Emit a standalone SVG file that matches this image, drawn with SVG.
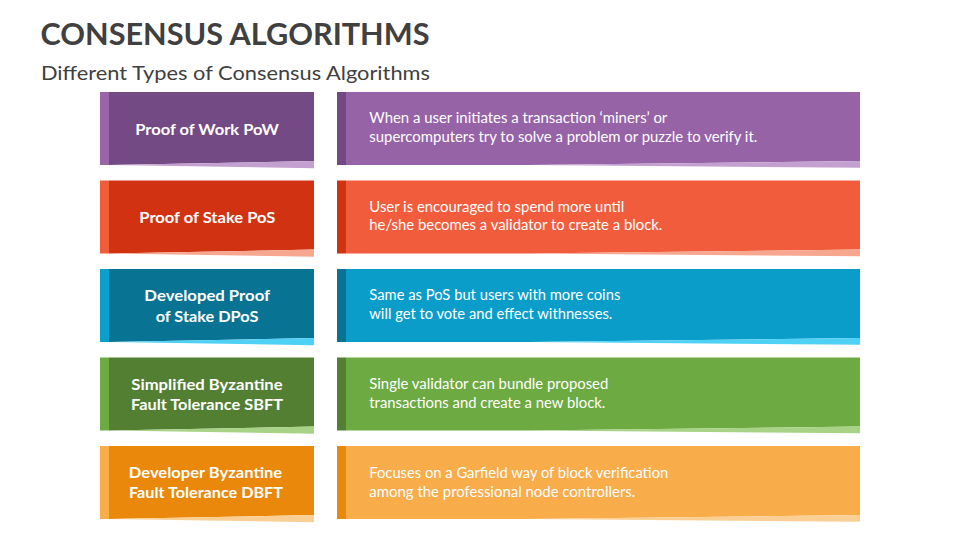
<svg xmlns="http://www.w3.org/2000/svg" width="960" height="540" viewBox="0 0 960 540">
<style>
.title{font-family:Lato,"Open Sans","Liberation Sans",sans-serif;font-weight:700;font-size:31px;fill:#404040}
.sub{font-family:Lato,"Open Sans","Liberation Sans",sans-serif;font-size:20px;fill:#404040}
.lbl{font-family:Lato,"Open Sans","Liberation Sans",sans-serif;font-weight:700;font-size:16px;fill:#ffffff;text-anchor:middle}
.desc{font-family:Lato,"Open Sans","Liberation Sans",sans-serif;font-size:14.5px;fill:#ffffff}
</style>
<defs>
<path id="lmain" d="M109,0 H314 V69 L109,73 Z"/>
<rect id="lstrip" x="100" y="0" width="9" height="73"/>
<path id="lwedge" d="M110,73 L314,69 L314,76.3 Z"/>
<path id="rmain" d="M346,0 H860 V69 L530,73 H346 Z"/>
<rect id="rstrip" x="337" y="0" width="9" height="73"/>
<path id="rwedge" d="M530,73 L860,69 L860,75.7 Z"/>
</defs>
<rect width="960" height="540" fill="#ffffff"/>
<text class="title" x="40.5" y="45" textLength="389" lengthAdjust="spacingAndGlyphs">CONSENSUS ALGORITHMS</text>
<text class="sub" x="41" y="80" textLength="389" lengthAdjust="spacingAndGlyphs">Different Types of Consensus Algorithms</text>

<g id="row-pow" transform="translate(0,92)">
<use href="#lmain" fill="#734A84"/><use href="#lstrip" fill="#9B63A8"/><use href="#lwedge" fill="#C3A0CF"/>
<use href="#rmain" fill="#9763A7"/><use href="#rstrip" fill="#734884"/><use href="#rwedge" fill="#C3A0CF"/>
<text class="lbl" x="207" y="43" textLength="143.7" lengthAdjust="spacingAndGlyphs">Proof of Work PoW</text>
<text class="desc" x="369.3" y="31.3" textLength="298" lengthAdjust="spacingAndGlyphs">When a user initiates a transaction ‘miners’ or</text>
<text class="desc" x="369.3" y="50.3" textLength="388" lengthAdjust="spacingAndGlyphs">supercomputers try to solve a problem or puzzle to verify it.</text>
</g>

<g id="row-pos" transform="translate(0,180.5)">
<use href="#lmain" fill="#D13312"/><use href="#lstrip" fill="#F05D3B"/><use href="#lwedge" fill="#F7A68F"/>
<use href="#rmain" fill="#F15D3C"/><use href="#rstrip" fill="#D13312"/><use href="#rwedge" fill="#F7A68F"/>
<text class="lbl" x="207.3" y="42.2" textLength="136" lengthAdjust="spacingAndGlyphs">Proof of Stake PoS</text>
<text class="desc" x="369.3" y="31.2" textLength="255" lengthAdjust="spacingAndGlyphs">User is encouraged to spend more until</text>
<text class="desc" x="369.3" y="49.5" textLength="293" lengthAdjust="spacingAndGlyphs">he/she becomes a validator to create a block.</text>
</g>

<g id="row-dpos" transform="translate(0,269)">
<use href="#lmain" fill="#097394"/><use href="#lstrip" fill="#0B9FCB"/><use href="#lwedge" fill="#4FD0F5"/>
<use href="#rmain" fill="#0B9DCA"/><use href="#rstrip" fill="#097394"/><use href="#rwedge" fill="#4FD0F5"/>
<text class="lbl" x="207.2" y="31.7" textLength="125.7" lengthAdjust="spacingAndGlyphs">Developed Proof</text>
<text class="lbl" x="207" y="52.7" textLength="102.7" lengthAdjust="spacingAndGlyphs">of Stake DPoS</text>
<text class="desc" x="369.3" y="31" textLength="251" lengthAdjust="spacingAndGlyphs">Same as PoS but users with more coins</text>
<text class="desc" x="369.3" y="50.3" textLength="243" lengthAdjust="spacingAndGlyphs">will get to vote and effect withnesses.</text>
</g>

<g id="row-sbft" transform="translate(0,357.5)">
<use href="#lmain" fill="#527F31"/><use href="#lstrip" fill="#6DAA41"/><use href="#lwedge" fill="#A8D387"/>
<use href="#rmain" fill="#6DAA41"/><use href="#rstrip" fill="#527F31"/><use href="#rwedge" fill="#A8D387"/>
<text class="lbl" x="207" y="32.5" textLength="151.3" lengthAdjust="spacingAndGlyphs">Simplified Byzantine</text>
<text class="lbl" x="207" y="52.5" textLength="152" lengthAdjust="spacingAndGlyphs">Fault Tolerance SBFT</text>
<text class="desc" x="369.3" y="31.5" textLength="239" lengthAdjust="spacingAndGlyphs">Single validator can bundle proposed</text>
<text class="desc" x="369.3" y="50.8" textLength="236" lengthAdjust="spacingAndGlyphs">transactions and create a new block.</text>
</g>

<g id="row-dbft" transform="translate(0,446)">
<use href="#lmain" fill="#E9880A"/><use href="#lstrip" fill="#F8AC4A"/><use href="#lwedge" fill="#FBCF93"/>
<use href="#rmain" fill="#F8AC4A"/><use href="#rstrip" fill="#E9880A"/><use href="#rwedge" fill="#FBCF93"/>
<text class="lbl" x="205.5" y="32.3" textLength="153.3" lengthAdjust="spacingAndGlyphs">Developer Byzantine</text>
<text class="lbl" x="206" y="52.3" textLength="154" lengthAdjust="spacingAndGlyphs">Fault Tolerance DBFT</text>
<text class="desc" x="369.3" y="32.3" textLength="299" lengthAdjust="spacingAndGlyphs">Focuses on a Garfield way of block verification</text>
<text class="desc" x="369.3" y="51.3" textLength="266" lengthAdjust="spacingAndGlyphs">among the professional node controllers.</text>
</g>
</svg>
